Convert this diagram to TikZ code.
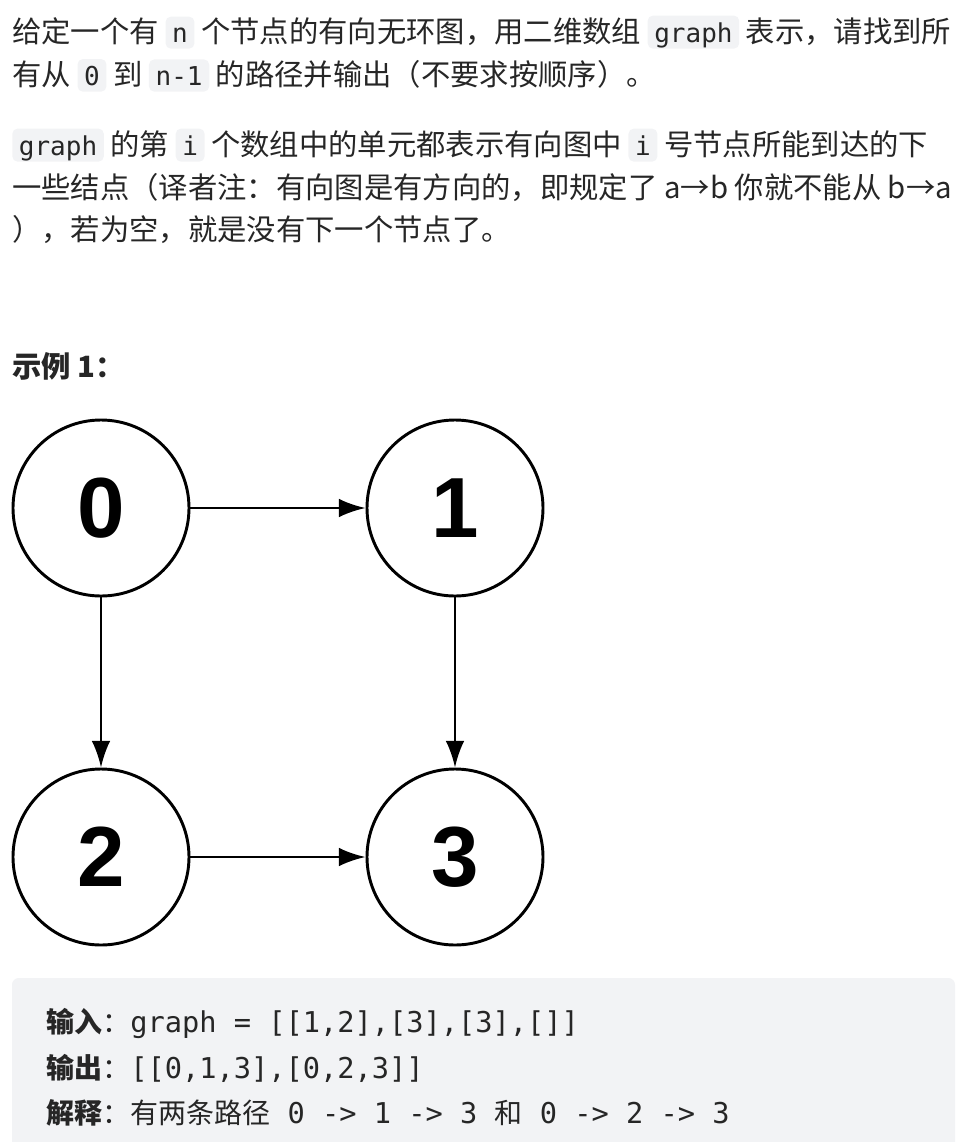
\documentclass[tikz,border=0pt]{standalone}
\usepackage{fontspec}
\setmainfont{Noto Sans CJK SC}
\setmonofont{DejaVu Sans Mono}
\newfontfamily\digfont{Liberation Sans}
\usetikzlibrary{arrows.meta}
\definecolor{codebg}{HTML}{F2F3F5}
\definecolor{txt}{HTML}{262626}
\newcommand{\icode}[1]{\tikz[baseline=(c.base)]\node[fill=codebg,rounded corners=4pt,inner xsep=5pt,inner ysep=5pt,text depth=0pt](c){\fontsize{19.5pt}{20pt}\selectfont\ttfamily\strut #1};}
\begin{document}
\begin{tikzpicture}[x=0.75pt,y=-0.75pt,
  txtline/.style={anchor=base west,inner sep=0pt,text=txt,font=\fontsize{22pt}{24pt}\selectfont},
  vert/.style={circle,draw=black,line width=2.2pt,minimum size=132pt,inner sep=0pt,font=\digfont\bfseries\fontsize{64pt}{64pt}\selectfont},
  edge/.style={-{Latex[length=20pt,width=14pt]},line width=2pt,black}]
\useasboundingbox (0,0) rectangle (970,1142);
\node[txtline] (l1) at (12,42) {给定一个有 \icode{n} 个节点的有向无环图，用二维数组 \icode{graph} 表示，请找到所};
\node[txtline] (l2) at (12,85) {有从 \icode{0} 到 \icode{n-1} 的路径并输出（不要求按顺序）。};
\node[txtline] (l3) at (12,155) {\icode{graph} 的第 \icode{i} 个数组中的单元都表示有向图中 \icode{i} 号节点所能到达的下};
\node[txtline] (l4) at (12,198) {一些结点（译者注：有向图是有方向的，即规定了 a→b 你就不能从 b→a};
\node[txtline] (l5) at (12,240) {），若为空，就是没有下一个节点了。};
\node[txtline,font=\bfseries\fontsize{22pt}{24pt}\selectfont] (ex) at (12,377) {示例 1：};
\node[vert] (n0) at (101,508) {0};
\node[vert] (n1) at (455,508) {1};
\node[vert] (n2) at (101,857) {2};
\node[vert] (n3) at (455,857) {3};
\draw[edge] (n0) -- (n1);
\draw[edge] (n0) -- (n2);
\draw[edge] (n1) -- (n3);
\draw[edge] (n2) -- (n3);
\fill[codebg,rounded corners=5pt] (12,978) rectangle (955,1160);
\begin{scope}[every node/.style={txtline,font=\fontsize{21pt}{24pt}\selectfont}]
\node (c1) at (46,1032) {\textbf{输入}：\texttt{\fontsize{21.5pt}{24pt}\selectfont graph = [[1,2],[3],[3],[]]}};
\node (c2) at (46,1078) {\textbf{输出}：\texttt{\fontsize{21.5pt}{24pt}\selectfont [[0,1,3],[0,2,3]]}};
\node (c3) at (46,1123) {\textbf{解释}：有两条路径\texttt{\fontsize{21.5pt}{24pt}\selectfont\ 0 -> 1 -> 3 }和\texttt{\fontsize{21.5pt}{24pt}\selectfont\ 0 -> 2 -> 3}};
\end{scope}
\end{tikzpicture}
\end{document}
